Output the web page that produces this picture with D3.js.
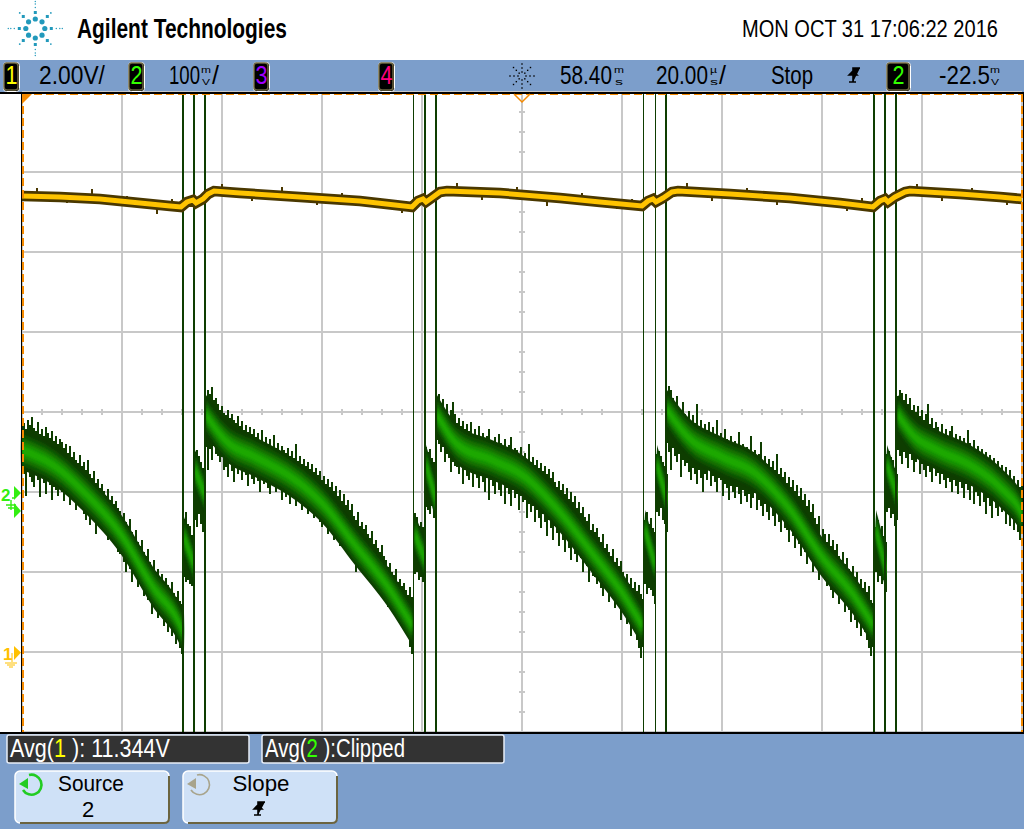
<!DOCTYPE html>
<html><head><meta charset="utf-8">
<script src="https://cdn.jsdelivr.net/npm/d3@7/dist/d3.min.js"></script>
<style>html,body{margin:0;padding:0;background:#fff}svg{display:block}text{font-family:"Liberation Sans",Arial,sans-serif}</style>
</head><body><svg id="c" width="1024" height="829"></svg>
<script>
// ---- Data: time in microseconds, level in display counts (0 = bottom of graticule, 640 = top)
const headerBrand = "Agilent Technologies";
const headerDate = "MON OCT 31 17:06:22 2016";
const channelLabels = ["1","2","3","4"];
const channelColors = ["#ffff00","#33ff00","#a000ff","#ff0080"];
const measureLabels = ["11.344V","Clipped"];
const softkeyLabels = ["Source","Slope"];

const sampleStep = 0.4;
const top1 = [306,309,303,312,307,315,304,301,310,298,303,296,305,299,294,301,291,296,288,293,290,284,288,279,286,275,280,272,269,277,266,270,262,272,258,254,261,249,253,244,248,241,236,243,232,236,228,231,224,221,215,219,210,206,213,200,195,202,190,186,192,180,176,183,170,165,172,160,163,155,158,150,154,147,143,150,139,135,141,131,128];
const bot1 = [262,258,236,260,255,250,245,257,252,235,254,249,238,253,247,232,245,242,236,248,240,231,243,236,227,238,232,222,234,226,230,218,212,225,207,220,214,198,215,206,210,200,208,192,205,196,188,200,180,178,178,170,160,172,163,150,165,156,145,158,148,136,150,132,142,118,136,128,114,130,118,106,122,100,114,96,110,88,102,84,78];
const top2 = [335,342,338,345,332,334,328,322,326,319,317,322,314,318,312,309,316,306,311,302,307,300,305,298,303,295,299,292,302,290,295,288,293,285,297,284,289,281,286,282,279,284,276,281,274,288,271,276,268,273,266,270,263,268,260,264,257,261,252,256,248,253,245,250,241,246,236,242,231,238,227,232,222,228,216,212,220,206,210,203,207,198,194,201,188,192,184,180,187,176,172,165,169,160,157,163,150,153,146,149,142,137,145,135];
const bot2 = [285,262,283,272,286,278,276,270,275,262,265,255,268,261,250,264,258,266,252,262,257,246,260,253,248,258,251,240,255,248,252,244,238,250,246,240,249,243,232,246,235,242,228,240,236,226,238,231,222,234,227,218,230,224,214,226,219,210,205,216,206,198,210,202,192,204,196,186,200,190,180,192,184,174,186,160,178,170,164,172,162,152,166,158,146,160,150,140,154,146,136,125,142,132,118,134,126,110,122,114,104,96,85,78];
const top3 = [330,338,326,333,320,328,316,322,330,318,309,314,306,311,303,308,301,310,298,303,296,306,294,299,291,296,303,292,288,295,285,298,289,283,293,281,287,295,279,284,282,277,285,274,279,272,288,270,275,267,272,264,269,261,266,258,263,254,260,250,245,251,242,248,238,244,233,240,230,236,224,230,219,225,215,211,218,202,208,200,204,195,190,198,184,188,180,176,183,170,174,166,171,160,152,158,148,154,144,150,141,147,138,133];
const bot3 = [292,288,280,285,270,278,274,260,270,266,265,258,268,248,262,256,252,264,245,258,254,244,256,250,240,254,232,252,246,238,250,242,236,248,228,244,238,226,242,234,238,222,236,230,232,214,228,220,226,210,222,214,204,218,210,196,212,204,192,206,199,186,202,192,180,196,184,172,190,178,170,184,174,160,176,166,150,168,156,155,148,160,144,136,152,142,130,146,134,124,138,126,112,128,119,108,120,96,110,100,92,84,74,85];
const top4 = [338,346,342,334,328,336,324,320,330,318,315,321,311,317,309,328,306,312,303,308,302,310,299,305,296,312,294,299,291,303,293,288,296,286,291,283,300,282,288,279,285,277,296,280,282,273,278,290,271,276,268,273,265,271,262,278,258,264,255,260,249,255,245,252,241,247,236,244,232,238,226,232,220,228,214,208,216,195,203,198,190,198,186,192,182,188,176,172,180,168,174,163,160,166,155,160,148,153,144,150,140,146,132,129];
const bot4 = [289,280,262,284,276,270,278,255,272,266,269,260,252,264,258,248,262,254,240,258,252,262,246,256,250,240,254,252,236,248,244,232,246,240,234,245,238,228,242,236,230,238,224,234,239,222,232,226,216,228,220,212,226,216,206,220,210,200,214,204,202,190,206,196,184,198,188,176,192,180,168,182,172,160,176,164,152,168,158,152,146,160,142,134,154,140,128,146,132,120,134,122,110,128,112,104,120,96,114,100,92,84,76,85];
const top5 = [336,342,339,332,338,328,334,322,327,320,326,316,322,312,318,328,308,314,304,310,305,300,308,297,303,295,301,306,293,298,290,296,288,294,286,302,289,284,292,280,286,278,283,275,280,272,277,268,274,265,271,262,267,260,265,254,262,250,256,247,252,245,249];
const bot5 = [282,276,268,280,274,264,278,272,260,270,274,258,268,262,255,266,260,250,264,256,259,248,258,252,244,254,250,240,252,246,238,250,244,234,248,242,232,246,228,240,236,226,240,230,218,234,226,214,232,224,216,228,220,222,208,218,206,214,202,210,200,192,202];
const sweepStarts = [0,36.8,83,129,175.2];

// short pieces between the ringing pulses
const pieceStarts = [32.4,34.6,78.6,80.8,124.6,127,170.8,173];
const pieceTops = [[213,220,208,206,197,195],[280,282,276,270,264,258],[219,215,206,210,205,198],[285,280,283,274,270,262],[212,220,208,214,204,200],[278,281,276,270,266,258],[205,212,200,206,196,190],[278,281,275,272,264,258]];
const pieceBots = [[155,150,152,148,146,130],[212,205,218,208,200,196],[158,160,152,155,150,142],[225,222,218,226,214,208],[148,138,144,142,136,128],[220,216,224,212,208,200],[160,150,156,148,152,140],[220,224,214,218,206,212]];
const pieceMidStart = [195,262,197,267,202,267,202,267];
const pieceMidEnd = [167,237,172,232,167,232,162,237];

// centre of the green band
const midT1 = [0,6.2,13,19.6,26.2,31.6,32.2];
const midV1 = [282,267,237,199,145,107,100];
const midT2 = [36.8,40.6,46.6,53.2,60,66.6,73.2,78];
const midV2 = [317,292,275,257,229,187,145,107];
const midT3 = [83,87.2,94,100.6,107.2,114,120.6,124];
const midV3 = [317,287,272,255,222,179,135,107];
const midT4 = [129,133.2,140,146.6,153.2,160,166.6,170.2];
const midV4 = [322,295,275,259,225,175,135,107];
const midT5 = [175.2,178.2,183,189.6,196.2,199.6,200];
const midV5 = [317,297,282,267,242,222,218];

// full-height ringing pulses on channel 2
const pulseTimes = [32.2,34.4,36.6,78.2,80.6,82.8,124.2,126.6,128.8,170.4,172.6,174.8];
const pulseWeights = [2,2,2,1,2,2,1,1,2,2,2,2];

// channel 1 (yellow)
const ch1T = [0,7.6,15.6,23.6,29.6,31.8,33,34.2,34.8,36.2,37.2,38.4,43.6,55.6,67.6,74.6,78,79.2,80.2,80.8,82.2,83.6,85,95.6,107.6,115.6,124,125.2,126.2,126.8,128.2,130,131.2,141.6,153.6,163.6,170.2,171.6,172.6,173.2,174.6,176.6,177.6,187.6,195.6,200];
const ch1V = [536,535,533,529,526,525,530,532,529,533,538,541,539,535,531,527,525,531,533,530,535,540,541,539,534,530,526,531,533,530,534,540,541,538,534,529,525,531,533,530,535,540,541,538,535,533];
const ch1SpikeT = [3,9,14,21,27,30,40,46,52,59,64,71,76,87,92,99,105,112,119,122,133,138,145,151,158,165,168,179,184,190,197];
const ch1SpikeV = [544,529,543,536,518,533,548,531,545,527,539,534,519,549,532,545,526,539,523,533,549,531,544,527,537,521,534,548,531,544,527];

const gridX = d3.range(0,201,20);
const gridY = d3.range(0,641,80);
const tickX = d3.range(0,201,4);
const tickY = d3.range(0,641,20);

// ---- Scales
const x = d3.scaleLinear().domain([0,200]).range([22,1022]);
const y = d3.scaleLinear().domain([0,640]).range([732,92]);
const svg = d3.select("#c");
const BLUE="#7c9ecb", GRID="#c8c8c8", DARK="#0e3d00", ORANGE="#f58a00";

// ---- Background
svg.append("rect").attr("width",1024).attr("height",829).attr("fill","#fff");
svg.append("rect").attr("y",60).attr("width",1024).attr("height",33).attr("fill",BLUE);
svg.append("rect").attr("y",733).attr("width",1024).attr("height",96).attr("fill",BLUE);

// ---- Grid
const g = svg.append("g").attr("shape-rendering","crispEdges").attr("stroke",GRID).attr("stroke-width",1.4);
g.selectAll(".gx").data(gridX).join("line").attr("x1",d=>x(d)).attr("x2",d=>x(d)).attr("y1",93).attr("y2",732);
g.selectAll(".gy").data(gridY).join("line").attr("x1",22).attr("x2",1022).attr("y1",d=>y(d)).attr("y2",d=>y(d));
g.selectAll(".tx").data(tickX).join("line").attr("x1",d=>x(d)).attr("x2",d=>x(d)).attr("y1",y(320)-3).attr("y2",y(320)+3);
g.selectAll(".ty").data(tickY).join("line").attr("x1",x(100)-3).attr("x2",x(100)+3).attr("y1",d=>y(d)).attr("y2",d=>y(d));

// ---- Channel 2 noise columns
const gc = svg.append("g").attr("stroke",DARK).attr("stroke-width",2).attr("shape-rendering","crispEdges");
function columns(start,tops,bots){
  gc.append("g").selectAll("line").data(d3.zip(tops,bots)).join("line")
    .attr("x1",(d,i)=>x(start+i*sampleStep)).attr("x2",(d,i)=>x(start+i*sampleStep))
    .attr("y1",d=>y(d[0])).attr("y2",d=>y(d[1]));
}
[[top1,bot1],[top2,bot2],[top3,bot3],[top4,bot4],[top5,bot5]].forEach((s,i)=>columns(sweepStarts[i],s[0],s[1]));
pieceStarts.forEach((s,i)=>columns(s,pieceTops[i],pieceBots[i]));

// ---- Channel 2 intensity bands
const layers = [[20,DARK,0],[16,"#0f5200",.8],[12,"#127000",1],[8,"#169000",1],[4,"#1ba800",.8]];
const blur = svg.append("defs").append("filter").attr("id","soft");
blur.append("feGaussianBlur").attr("stdDeviation",0.9);
function band(ts,vs,scale){
  const pts = d3.zip(ts,vs);
  layers.forEach(([h,c,soft])=>{
    const a = d3.area().x(d=>x(d[0])).y0(d=>y(d[1])-h*scale).y1(d=>y(d[1])+h*scale).curve(d3.curveMonotoneX);
    const p = svg.append("path").attr("d",a(pts)).attr("fill",c);
    if(soft) p.attr("filter","url(#soft)");
  });
}
[[midT1,midV1],[midT2,midV2],[midT3,midV3],[midT4,midV4],[midT5,midV5]].forEach(s=>band(s[0],s[1],1));
pieceStarts.forEach((s,i)=>band([s,s+2],[pieceMidStart[i],pieceMidEnd[i]],1));

// ---- Pulses
svg.append("g").attr("stroke",DARK).attr("shape-rendering","crispEdges")
  .selectAll("line").data(d3.zip(pulseTimes,pulseWeights)).join("line")
  .attr("x1",d=>x(d[0])).attr("x2",d=>x(d[0])).attr("y1",94).attr("y2",732).attr("stroke-width",d=>d[1]);

// ---- Channel 1
const ch1 = d3.line().x(d=>x(d[0])).y(d=>y(d[1]));
const ch1Pts = d3.zip(ch1T,ch1V);
svg.append("g").attr("stroke","#4a3800").attr("stroke-width",1.5).attr("shape-rendering","crispEdges")
  .selectAll("line").data(d3.zip(ch1SpikeT,ch1SpikeV)).join("line")
  .attr("x1",d=>x(d[0])).attr("x2",d=>x(d[0])).attr("y1",d=>y(d[1])).attr("y2",d=>y(d3.bisectLeft(ch1T,d[0])<ch1V.length?ch1V[d3.bisectLeft(ch1T,d[0])]:d[1]));
svg.append("path").attr("d",ch1(ch1Pts)).attr("fill","none").attr("stroke","#4a3800").attr("stroke-width",10.5);
svg.append("path").attr("d",ch1(ch1Pts)).attr("fill","none").attr("stroke","#ffc400").attr("stroke-width",5);

// ---- Frame
const fr = svg.append("g").attr("shape-rendering","crispEdges");
fr.append("rect").attr("x",0).attr("y",92).attr("width",1024).attr("height",1.5).attr("fill","#000");
fr.append("rect").attr("x",0).attr("y",732).attr("width",1024).attr("height",1.5).attr("fill","#000");
fr.append("rect").attr("x",21).attr("y",93).attr("width",1.2).attr("height",640).attr("fill","#000");
fr.append("rect").attr("x",1022.5).attr("y",93).attr("width",1.2).attr("height",640).attr("fill","#000");
fr.append("line").attr("x1",22).attr("x2",1022).attr("y1",94.5).attr("y2",94.5).attr("stroke",ORANGE).attr("stroke-width",1.6).attr("stroke-dasharray","8 4");
fr.append("line").attr("x1",22.8).attr("x2",22.8).attr("y1",94).attr("y2",732).attr("stroke",ORANGE).attr("stroke-width",1.6).attr("stroke-dasharray","8 4");
fr.append("line").attr("x1",1021.8).attr("x2",1021.8).attr("y1",94).attr("y2",732).attr("stroke",ORANGE).attr("stroke-width",1.6).attr("stroke-dasharray","8 4");
svg.append("path").attr("d","M22 94H32L22 104Z").attr("fill",ORANGE);
svg.append("path").attr("d","M514 94L522 102L530 94").attr("fill","none").attr("stroke",ORANGE).attr("stroke-width",1.5);

// ---- Logo
const lg = svg.append("g").attr("transform","translate(35.3,28.5)").attr("fill","#2299bb");
d3.range(8).forEach(i=>{
  const a=i*Math.PI/4;
  lg.append("circle").attr("cx",9.5*Math.cos(a)).attr("cy",9.5*Math.sin(a)).attr("r",2.6);
  const r2=i%2?17:16;
  lg.append("rect").attr("x",r2*Math.cos(a)-1.5).attr("y",r2*Math.sin(a)-1.5).attr("width",3).attr("height",3);
  if(i%2){lg.append("circle").attr("cx",22*Math.cos(a)).attr("cy",22*Math.sin(a)).attr("r",.9);}
  else{ [21,24.5,27].forEach(r=>lg.append("circle").attr("cx",r*Math.cos(a)).attr("cy",r*Math.sin(a)).attr("r",.7)); }
});
// squeeze a text to a measured width by scaling it horizontally
function fit(t,px,py,w){
  const len=t.node().getComputedTextLength();
  t.attr("x",0).attr("y",0).attr("transform",`translate(${px},${py}) scale(${w/len},1)`);
}
function txt(s,px,py,size,opt={}){
  const t=svg.append("text").attr("x",px).attr("y",py).attr("font-size",size).attr("fill",opt.fill||"#000").text(s);
  if(opt.bold) t.attr("font-weight","bold");
  if(opt.anchor) t.attr("text-anchor",opt.anchor);
  if(opt.w) fit(t,px,py,opt.w);
  return t;
}
txt(headerBrand,77,38,27,{w:210,bold:true});
txt(headerDate,742,37,24,{w:256});

// ---- Channel boxes
function chBox(label,color,bx,w){
  svg.append("rect").attr("x",bx+.5).attr("y",62.5).attr("width",w).attr("height",29).attr("rx",3).attr("fill","#000").attr("stroke","#fff").attr("stroke-width",1);
  svg.append("rect").attr("x",bx+1).attr("y",63).attr("width",w-2).attr("height",27).attr("rx",3).attr("fill","#000").attr("stroke","#6b6440").attr("stroke-width",1.5);
  txt(label,bx+w/2+.5,84,25,{fill:color,anchor:"middle",w:12});
}
[3,128,253,378].forEach((bx,i)=>chBox(channelLabels[i],channelColors[i],bx,16));
chBox(channelLabels[1],channelColors[1],886,24);

// ---- Toolbar text
txt("2.00V/",39,84,25,{w:66});
txt("100",169,84,25,{w:31});
txt("m",201,73,9.5,{w:10}); txt("V",202,84.5,9.5,{w:8});
txt("/",212,84,25);
txt("58.40",560,84,25,{w:52});
txt("m",614,73,9.5,{w:10}); txt("s",615,84.5,9.5,{w:8});
txt("20.00",656,84,25,{w:52});
txt("\u00b5",710,73,9.5,{w:7}); txt("s",710,84.5,9.5,{w:8});
txt("/",719,84,25);
txt("Stop",771,84,25,{w:42});
svg.append("path").attr("d","M849 82H856M853 82V68H860M849 75L853 71L857 75Z").attr("fill","#000").attr("stroke","#000").attr("stroke-width",1.6);
txt("-22.5",939,84,25,{w:51});
txt("m",990,73,9.5,{w:10}); txt("V",991,84.5,9.5,{w:8});

// trigger-time icon
const sp = svg.append("g").attr("transform","translate(522,76)").attr("fill","#000");
d3.range(8).forEach(i=>{ const a=i*Math.PI/4;
  [4,8,12].forEach(r=>sp.append("rect").attr("x",r*Math.cos(a)-.7).attr("y",r*Math.sin(a)-.7).attr("width",1.4).attr("height",1.4));
});

// ---- Measurements
function measure(bx,w,ch,rest,len){
  svg.append("rect").attr("x",bx).attr("y",735).attr("width",w).attr("height",28).attr("rx",2).attr("fill","#333").attr("stroke","#e8eef8").attr("stroke-width",1.5);
  const t=svg.append("text").attr("font-size",25).attr("fill","#fff");
  t.append("tspan").text("Avg(");
  t.append("tspan").attr("fill",ch==="1"?"#ffff00":"#33ff00").text(ch);
  t.append("tspan").text(" "+rest);
  fit(t,bx+3,757,len);
}
measure(7,242,channelLabels[0],"): "+measureLabels[0],160);
measure(262,242,channelLabels[1],"):"+measureLabels[1],140);

// ---- Softkeys
function softkey(bx,label,value,arrow,cx,w){
  svg.append("rect").attr("x",bx).attr("y",771).attr("width",154).attr("height",52).attr("rx",5).attr("fill","#cfe1f7").attr("stroke","#fff").attr("stroke-width",1.5);
  svg.append("path").attr("d",`M${bx+154} 776V818Q${bx+154} 823 ${bx+149} 823H${bx+5}`).attr("fill","none").attr("stroke","#6b6440").attr("stroke-width",2);
  txt(label,cx-w/2,791,22,{w});
  const a=svg.append("g").attr("transform",`translate(${bx+17},785)`);
  a.append("path").attr("d","M-3 -10A10 10 0 1 1 -9 5").attr("fill","none").attr("stroke",arrow).attr("stroke-width",arrow==="#22cc22"?2.6:1.6);
  a.append("path").attr("d","M-13 -1L-4 -7V4Z").attr("fill",arrow);
  if(value) txt(value,88,817,22,{anchor:"middle"});
}
softkey(15,softkeyLabels[0],"2","#22cc22",91,66);
softkey(183,softkeyLabels[1],null,"#a8a48c",261,57);
svg.append("path").attr("d","M254 815H261M258 815V802H265M254 809L258 805L262 809Z").attr("fill","#000").attr("stroke","#000").attr("stroke-width",1.6);

// ---- Ground and trigger markers
const GREEN="#33ee11", YEL="#ffc000";
txt("2",1,501,17,{fill:GREEN,bold:true});
svg.append("path").attr("d","M14 486L21 493L14 500Z").attr("fill",GREEN);
svg.append("path").attr("d","M14 503L21 511L14 518Z").attr("fill",GREEN);
svg.append("path").attr("d","M6 505H16M11 500V510M12 498H14M8 508H14").attr("stroke",GREEN).attr("stroke-width",1.4).attr("fill","none");
txt("1",3,660,17,{fill:YEL,bold:true});
svg.append("path").attr("d","M14 646L21 652.5L14 660Z").attr("fill",YEL);
svg.append("path").attr("d","M12 653V662M5 663H17M7 665H15M9 667H13").attr("stroke",YEL).attr("stroke-width",1).attr("fill","none");
</script></body></html>
